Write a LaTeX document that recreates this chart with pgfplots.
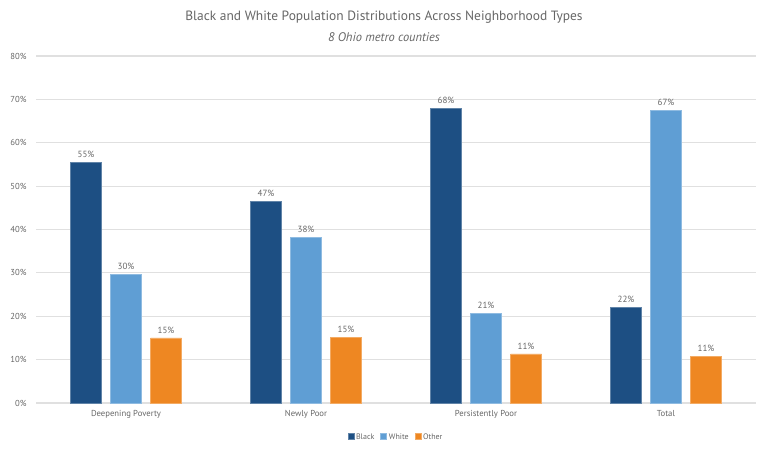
\documentclass[border=0pt]{standalone}
\usepackage{fontspec}
\setmainfont{PT Sans}
\usepackage{pgfplots}
\pgfplotsset{compat=1.18}
\definecolor{cblack}{HTML}{1D4F83}
\definecolor{cwhite}{HTML}{5F9ED4}
\definecolor{cother}{HTML}{EE8722}
\definecolor{txt}{HTML}{666666}
\definecolor{grd}{HTML}{E0E0E0}
\begin{document}
\begin{tikzpicture}
\path[use as bounding box] (-36bp,-48bp) rectangle (732bp,403bp);
\begin{axis}[
  at={(0,0)}, anchor=south west,
  scale only axis, width=720bp, height=347bp,
  ybar=9bp, bar width=31bp,
  xmin=-0.5, xmax=3.5, ymin=0, ymax=80,
  xtick={0,1,2,3},
  xticklabels={Deepening Poverty,Newly Poor,Persistently Poor,Total},
  ytick={0,10,...,80},
  yticklabel={\pgfmathprintnumber{\tick}\%},
  /pgf/number format/assume math mode=true,
  axis line style={draw=none},
  major tick length=0pt,
  ymajorgrids, grid style={grd, line width=1.2bp},
  tick label style={font=\fontsize{8.7}{10}\selectfont, text=txt},
  yticklabel style={xshift=-6bp},
  xticklabel style={yshift=-4bp},
  nodes near coords={\pgfmathprintnumber[fixed,precision=0]{\pgfplotspointmeta}\%},
  point meta=explicit,
  every node near coord/.append style={font=\fontsize{9}{10}\selectfont, text=txt, yshift=1bp, /pgf/number format/assume math mode=true},
  legend columns=3,
  legend style={at={(axis description cs:0.5,-0.098)}, anchor=center, draw=none, fill=none,
    font=\fontsize{8}{9}\selectfont, text=txt, /tikz/every even column/.append style={column sep=4bp}},
  legend image code/.code={\fill[#1] (0bp,-2.5bp) rectangle (6bp,3.5bp);},
]
\addplot[fill=cblack, draw=cblack!70!white, line width=0.5bp] table[meta=m] {
x y m
0 55.5 55
1 46.5 47
2 68.0 68
3 22.1 22
};
\addplot[fill=cwhite, draw=cwhite!70!white, line width=0.5bp] table[meta=m] {
x y m
0 29.7 30
1 38.2 38
2 20.7 21
3 67.5 67
};
\addplot[fill=cother, draw=cother!70!white, line width=0.5bp] table[meta=m] {
x y m
0 15.0 15
1 15.2 15
2 11.3 11
3 10.8 11
};
\legend{Black,White,Other}
\end{axis}
\node[font=\fontsize{13.5}{16}\selectfont, text=txt] at (348bp,386bp) {Black and White Population Distributions Across Neighborhood Types};
\node[font=\itshape\fontsize{12.5}{14}\selectfont, text=txt] at (348bp,366bp) {8 Ohio metro counties};
\end{tikzpicture}
\end{document}
